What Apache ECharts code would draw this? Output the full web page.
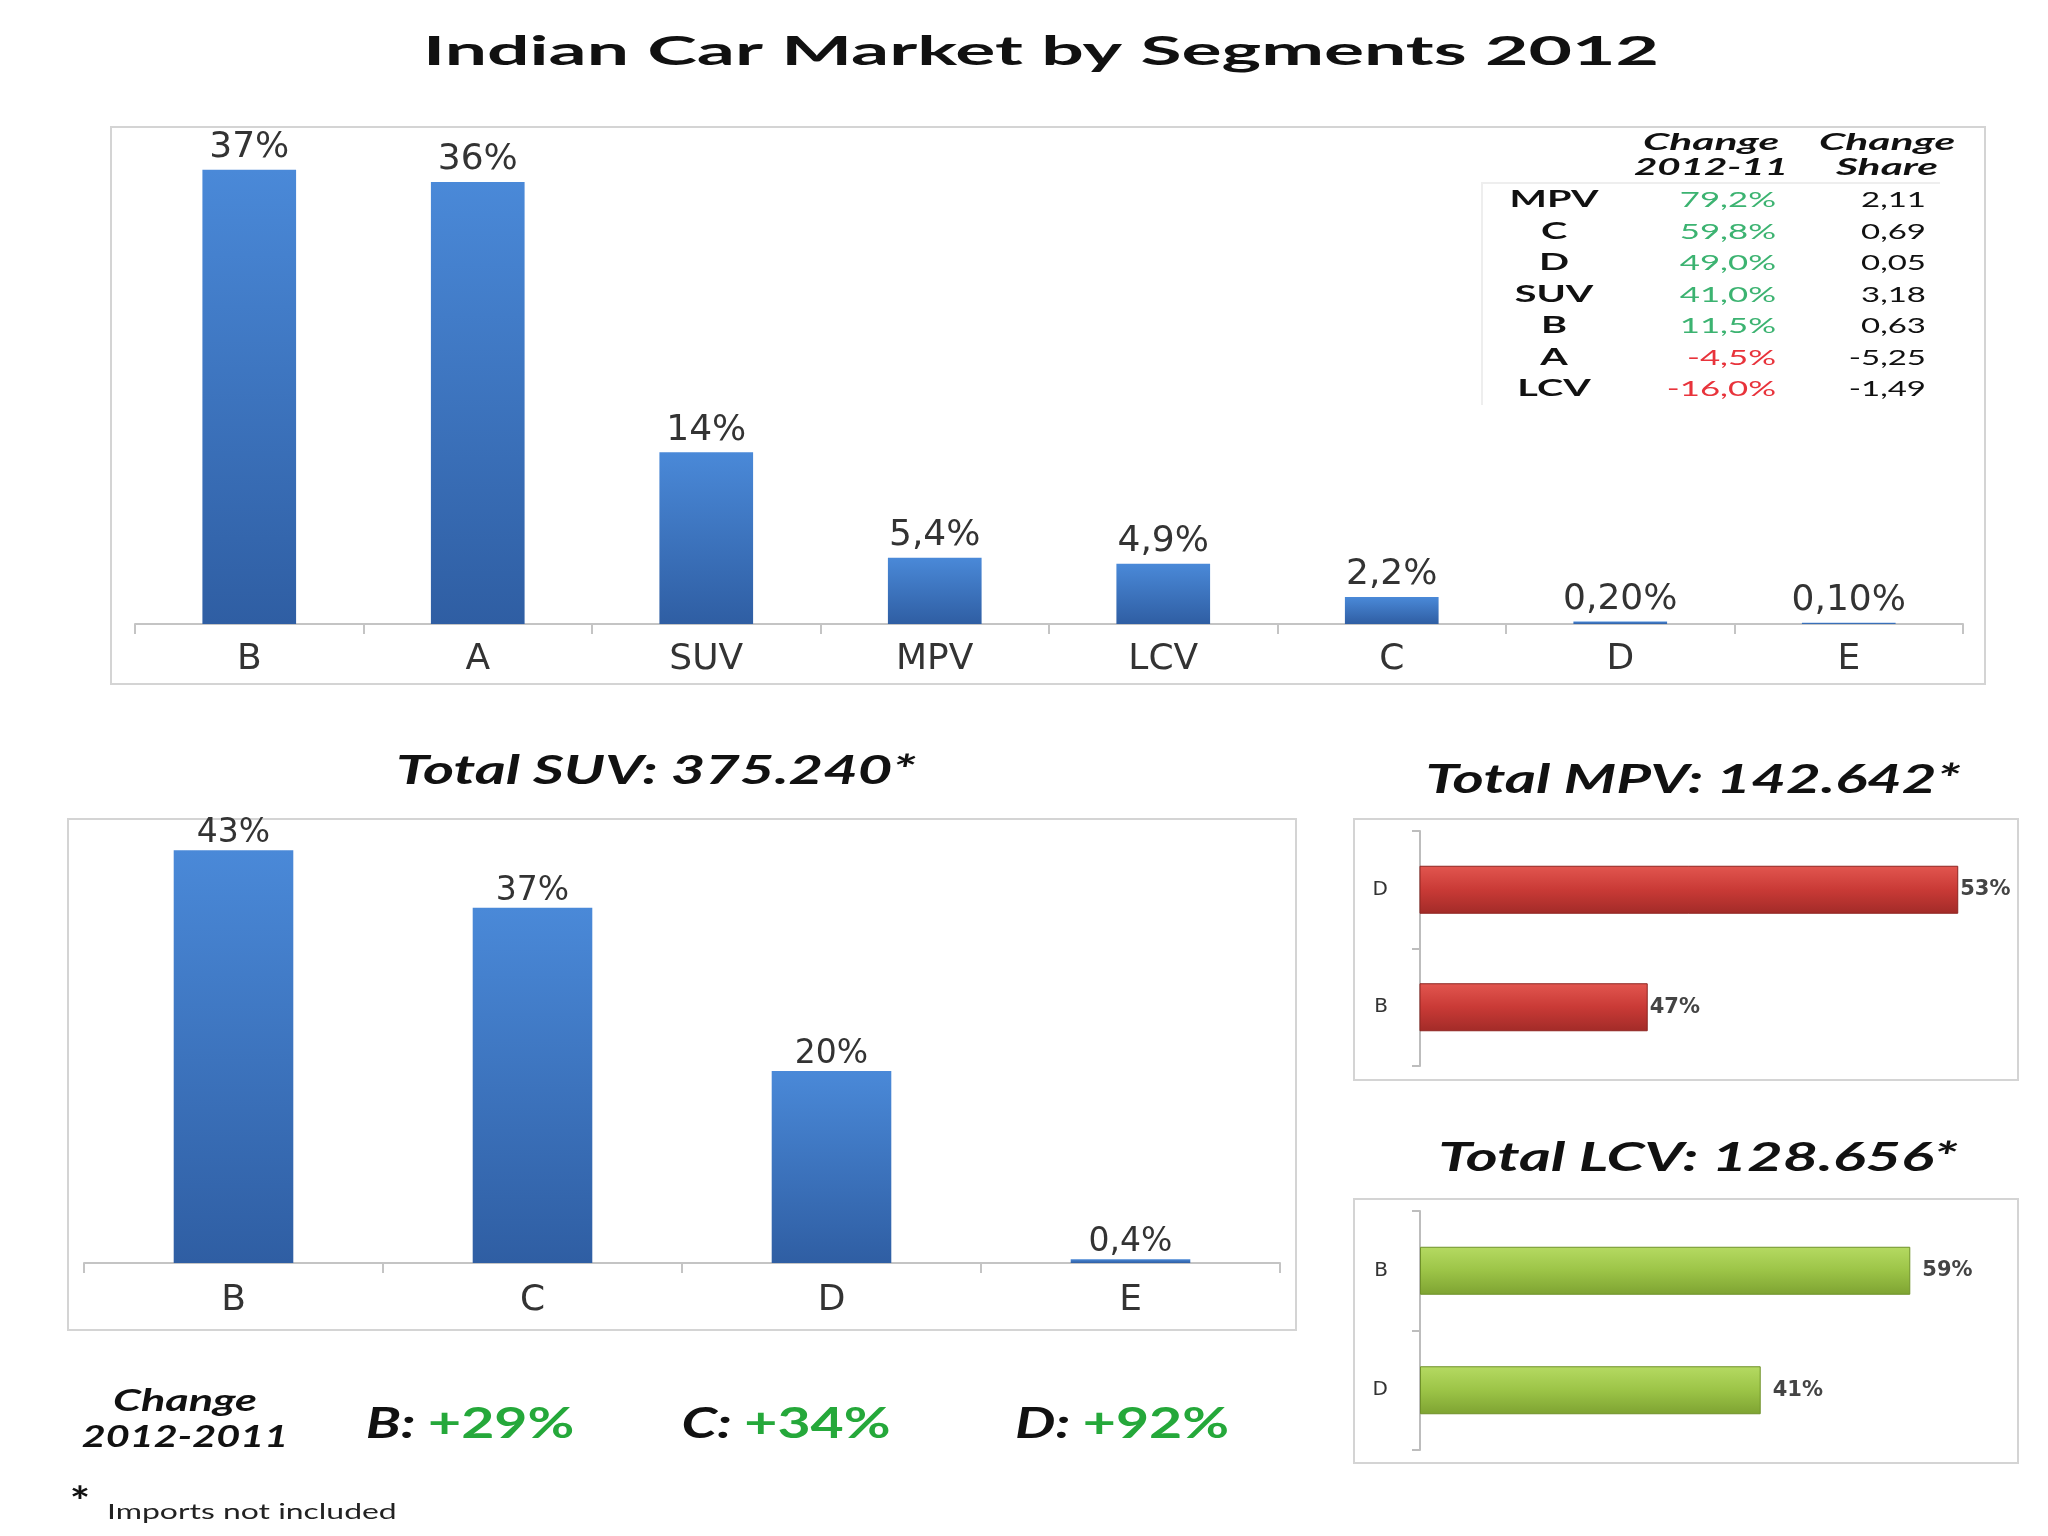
<!DOCTYPE html>
<html>
<head>
<meta charset="utf-8">
<title>Indian Car Market by Segments 2012</title>
<script src="https://cdn.jsdelivr.net/npm/echarts@6/dist/echarts.min.js"></script>
<style>
  html, body { margin: 0; padding: 0; background: #fff; }
  #main { width: 2048px; height: 1536px; }
</style>
</head>
<body>
<div id="main"></div>
<script type="text/javascript">
// market share by segment 2012
var segCats = ['B', 'A', 'SUV', 'MPV', 'LCV', 'C', 'D', 'E'];
var segShare = [37, 36, 14, 5.4, 4.9, 2.2, 0.2, 0.1];
var segLabels = ['37%', '36%', '14%', '5,4%', '4,9%', '2,2%', '0,20%', '0,10%'];

// inset table
var tabSegs = ['MPV', 'C', 'D', 'SUV', 'B', 'A', 'LCV'];
var tabChange = [79.2, 59.8, 49.0, 41.0, 11.5, -4.5, -16.0];
var tabShare = [2.11, 0.69, 0.05, 3.18, 0.63, -5.25, -1.49];

// SUV split
var suvCats = ['B', 'C', 'D', 'E'];
var suvShare = [43, 37, 20, 0.4];
var suvLabels = ['43%', '37%', '20%', '0,4%'];
var suvChgCats = ['B', 'C', 'D'];
var suvChg = [29, 34, 92];

// MPV split
var mpvCats = ['D', 'B'];
var mpvShare = [53, 47];

// LCV split
var lcvCats = ['B', 'D'];
var lcvShare = [59, 41];

var chart = echarts.init(document.getElementById('main'));

var blue = new echarts.graphic.LinearGradient(0, 0, 0, 1, [
  { offset: 0, color: '#4a89d8' }, { offset: 1, color: '#2f5ea3' }]);
var red = new echarts.graphic.LinearGradient(0, 0, 0, 1, [
  { offset: 0, color: '#e2564f' }, { offset: 0.5, color: '#c93a36' }, { offset: 1, color: '#a22b28' }]);
var green = new echarts.graphic.LinearGradient(0, 0, 0, 1, [
  { offset: 0, color: '#b5da62' }, { offset: 0.5, color: '#9cc447' }, { offset: 1, color: '#7ea332' }]);

function comma(v, d) { return v.toFixed(d).replace('.', ','); }

var F = 'Lato, "DejaVu Sans", sans-serif';
var W = '"DejaVu Sans", sans-serif';   // wide face for axis / value labels
var els = [];

function box(x, y, w, h) {
  els.push({ type: 'rect', shape: { x: x, y: y, width: w, height: h },
    style: { fill: 'none', stroke: '#d4d4d4', lineWidth: 2 }, silent: true });
}
function txt(t, x, y, font, fill, align, sx) {
  els.push({ type: 'text', x: x, y: y, scaleX: sx || 1,
    style: { text: t, font: font, fill: fill || '#111', align: align || 'center', verticalAlign: 'middle',
      textAlign: align || 'center', textVerticalAlign: 'middle' } });
}

box(111, 127, 1874, 557);
box(68, 819, 1228, 511);
box(1354, 819, 664, 261);
box(1354, 1199, 664, 264);

txt('Indian Car Market by Segments 2012', 1041, 52, 'bold 41px ' + F, '#111', 'center', 1.83);
txt('Total SUV: 375.240*', 656, 771, 'italic bold 40px ' + F, '#111', 'center', 1.49);
txt('Total MPV: 142.642*', 1693, 780, 'italic bold 40px ' + F, '#111', 'center', 1.5);
txt('Total LCV: 128.656*', 1698, 1158, 'italic bold 40px ' + F, '#111', 'center', 1.53);

// table
els.push({ type: 'polyline', shape: { points: [[1482, 405], [1482, 183], [1940, 183]] },
  style: { stroke: '#eeeeee', lineWidth: 2, fill: 'none' }, silent: true });
txt('Change', 1711, 143, 'italic bold 23px ' + F, '#111', 'center', 1.85);
txt('2012-11', 1711, 168, 'italic bold 23px ' + F, '#111', 'center', 1.75);
txt('Change', 1887, 143, 'italic bold 23px ' + F, '#111', 'center', 1.85);
txt('Share', 1887, 168, 'italic bold 23px ' + F, '#111', 'center', 1.85);
tabSegs.forEach(function (s, i) {
  var y = 200 + i * 31.5;
  txt(s, 1554, y, 'bold 22px ' + F, '#111', 'center', 1.8);
  txt(comma(tabChange[i], 1) + '%', 1776, y, '22px ' + F, tabChange[i] >= 0 ? '#3cb371' : '#e8333b', 'right', 1.58);
  txt(comma(tabShare[i], 2), 1926, y, '22px ' + F, '#111', 'right', 1.5);
});

// SUV change row
txt('Change', 185, 1401, 'italic bold 30px ' + F, '#111', 'center', 1.5);
txt('2012-2011', 185, 1437, 'italic bold 30px ' + F, '#111', 'center', 1.38);
var chgX = [470, 786, 1122];
suvChgCats.forEach(function (c, i) {
  els.push({ type: 'text', x: chgX[i], y: 1424, scaleX: 1.36,
    style: { text: '{k|' + c + ': }{v|+' + suvChg[i] + '%}', align: 'center', verticalAlign: 'middle',
      textAlign: 'center', textVerticalAlign: 'middle',
      rich: { k: { font: 'italic bold 42px ' + F, fill: '#111', color: '#111' },
              v: { font: 'bold 42px ' + F, fill: '#25a83a', color: '#25a83a' } } } });
});

// footnote
txt('*', 80, 1503, 'bold 40px ' + F, '#111', 'center', 1.2);
txt('Imports not included', 107, 1512, '22px ' + F, '#222', 'left', 1.45);

var option = {
  backgroundColor: '#fff',
  animation: false,
  graphic: { elements: els },
  grid: [
    { left: 135, top: 133, width: 1828, height: 491 },
    { left: 84, top: 831, width: 1196, height: 432 },
    { left: 1420, top: 831, width: 590, height: 235 },
    { left: 1420, top: 1211, width: 590, height: 239 }
  ],
  xAxis: [
    { type: 'category', gridIndex: 0, data: segCats,
      axisLine: { lineStyle: { color: '#c4c4c4', width: 2 } },
      axisTick: { show: true, length: 10, lineStyle: { color: '#c4c4c4', width: 2 } },
      axisLabel: { fontSize: 36, color: '#333', fontFamily: W, margin: 18 } },
    { type: 'category', gridIndex: 1, data: suvCats,
      axisLine: { lineStyle: { color: '#c4c4c4', width: 2 } },
      axisTick: { show: true, length: 10, lineStyle: { color: '#c4c4c4', width: 2 } },
      axisLabel: { fontSize: 36, color: '#333', fontFamily: W, margin: 20 } },
    { type: 'value', gridIndex: 2, min: 42.6, max: 54, show: false },
    { type: 'value', gridIndex: 3, min: 0, max: 71, show: false }
  ],
  yAxis: [
    { type: 'value', gridIndex: 0, min: 0, max: 40, show: false },
    { type: 'value', gridIndex: 1, min: 0, max: 45, show: false },
    { type: 'category', gridIndex: 2, data: mpvCats, inverse: true,
      axisLine: { lineStyle: { color: '#bdbdbd', width: 2 } },
      axisTick: { show: true, length: 8, lineStyle: { color: '#bdbdbd', width: 2 } },
      axisLabel: { fontSize: 20, color: '#333', fontFamily: W, margin: 32 } },
    { type: 'category', gridIndex: 3, data: lcvCats, inverse: true,
      axisLine: { lineStyle: { color: '#bdbdbd', width: 2 } },
      axisTick: { show: true, length: 8, lineStyle: { color: '#bdbdbd', width: 2 } },
      axisLabel: { fontSize: 20, color: '#333', fontFamily: W, margin: 32 } }
  ],
  series: [
    { type: 'bar', xAxisIndex: 0, yAxisIndex: 0, data: segShare, barWidth: '41%',
      itemStyle: { color: blue },
      label: { show: true, position: 'top', distance: 4, fontSize: 36, color: '#333', fontFamily: W,
        formatter: function (p) { return segLabels[p.dataIndex]; } } },
    { type: 'bar', xAxisIndex: 1, yAxisIndex: 1, data: suvShare, barWidth: '40%',
      itemStyle: { color: blue },
      label: { show: true, position: 'top', distance: 0, fontSize: 33, color: '#333', fontFamily: W,
        formatter: function (p) { return suvLabels[p.dataIndex]; } } },
    { type: 'bar', xAxisIndex: 2, yAxisIndex: 2, data: mpvShare, barWidth: 48,
      itemStyle: { color: red, borderColor: '#8e2421', borderWidth: 1 },
      label: { show: true, position: 'right', distance: 2, fontSize: 21, fontWeight: 'bold', color: '#444', fontFamily: W,
        formatter: '{c}%' } },
    { type: 'bar', xAxisIndex: 3, yAxisIndex: 3, data: lcvShare, barWidth: 48,
      itemStyle: { color: green, borderColor: '#6f9128', borderWidth: 1 },
      label: { show: true, position: 'right', distance: 12, fontSize: 21, fontWeight: 'bold', color: '#444', fontFamily: W,
        formatter: '{c}%' } }
  ]
};
chart.setOption(option);
</script>
</body>
</html>
